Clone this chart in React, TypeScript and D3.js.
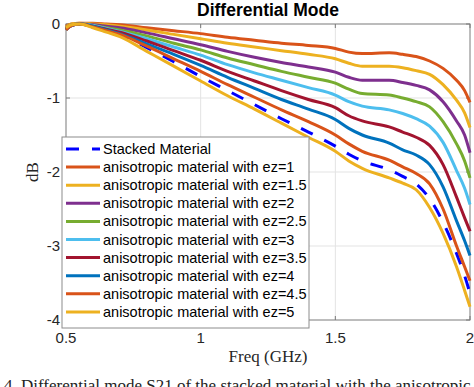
import React, { useEffect, useRef } from 'react';
import * as d3 from 'd3';

// frequency grid (GHz)
const freqs = [0.5, 0.52, 0.55, 0.6, 0.65, 0.7, 0.8, 0.9, 1.0, 1.1, 1.2, 1.3, 1.4, 1.5, 1.55, 1.6, 1.7, 1.75, 1.8, 1.85, 1.9, 1.95, 1.98, 2.0];

// dB values
const stacked = [-0.05, -0.02, 0.0, -0.04, -0.09, -0.14, -0.32, -0.51, -0.71, -0.9, -1.09, -1.28, -1.46, -1.65, -1.76, -1.85, -1.97, -2.06, -2.16, -2.36, -2.68, -3.1, -3.4, -3.64];
const ez1 = [-0.03, 0.0, 0.01, 0.01, 0.0, -0.01, -0.05, -0.09, -0.13, -0.18, -0.22, -0.26, -0.29, -0.33, -0.38, -0.4, -0.39, -0.41, -0.44, -0.5, -0.6, -0.76, -0.9, -1.06];
const ez1_5 = [-0.04, 0.0, 0.01, 0.0, -0.01, -0.03, -0.08, -0.14, -0.2, -0.26, -0.31, -0.36, -0.41, -0.47, -0.53, -0.57, -0.57, -0.59, -0.63, -0.68, -0.82, -1.03, -1.2, -1.4];
const ez2 = [-0.05, -0.01, 0.0, -0.01, -0.03, -0.05, -0.12, -0.2, -0.28, -0.37, -0.45, -0.52, -0.58, -0.65, -0.72, -0.76, -0.76, -0.79, -0.83, -0.89, -1.05, -1.31, -1.5, -1.74];
const ez2_5 = [-0.06, -0.01, 0.0, -0.02, -0.05, -0.08, -0.16, -0.26, -0.35, -0.46, -0.55, -0.64, -0.72, -0.8, -0.88, -0.94, -0.96, -1.0, -1.05, -1.12, -1.32, -1.62, -1.85, -2.08];
const ez3 = [-0.07, -0.02, 0.0, -0.02, -0.06, -0.1, -0.2, -0.31, -0.42, -0.55, -0.66, -0.76, -0.86, -0.96, -1.05, -1.11, -1.16, -1.21, -1.28, -1.38, -1.6, -1.98, -2.22, -2.44];
const ez3_5 = [-0.07, -0.02, 0.0, -0.03, -0.07, -0.11, -0.23, -0.36, -0.49, -0.64, -0.77, -0.9, -1.02, -1.13, -1.24, -1.31, -1.39, -1.46, -1.53, -1.64, -1.9, -2.34, -2.62, -2.8];
const ez4 = [-0.08, -0.02, 0.0, -0.03, -0.08, -0.13, -0.27, -0.41, -0.56, -0.72, -0.87, -1.02, -1.15, -1.29, -1.41, -1.5, -1.61, -1.7, -1.77, -1.9, -2.2, -2.66, -2.93, -3.13];
const ez4_5 = [-0.08, -0.02, 0.0, -0.04, -0.09, -0.14, -0.3, -0.47, -0.64, -0.82, -0.99, -1.16, -1.32, -1.5, -1.62, -1.72, -1.84, -1.93, -2.02, -2.16, -2.5, -3.0, -3.28, -3.47];
const ez5 = [-0.05, -0.01, 0.0, -0.05, -0.11, -0.17, -0.37, -0.57, -0.77, -0.97, -1.15, -1.34, -1.53, -1.72, -1.85, -1.95, -2.08, -2.15, -2.24, -2.48, -2.83, -3.28, -3.6, -3.82];

const seriesLabels = [
  'Stacked Material',
  'anisotropic material with ez=1',
  'anisotropic material with ez=1.5',
  'anisotropic material with ez=2',
  'anisotropic material with ez=2.5',
  'anisotropic material with ez=3',
  'anisotropic material with ez=3.5',
  'anisotropic material with ez=4',
  'anisotropic material with ez=4.5',
  'anisotropic material with ez=5',
];
const seriesValues = [stacked, ez1, ez1_5, ez2, ez2_5, ez3, ez3_5, ez4, ez4_5, ez5];
const seriesColors = ['#0000ff', '#D95319', '#EDB120', '#7E2F8E', '#77AC30', '#4DBEEE', '#A2142F', '#0072BD', '#D95319', '#EDB120'];

const xTicks = [0.5, 1, 1.5, 2];
const xTickLabels = ['0.5', '1', '1.5', '2'];
const yTicks = [0, -1, -2, -3, -4];
const yTickLabels = ['0', '-1', '-2', '-3', '-4'];

const SANS = '"Liberation Sans", Arial, Helvetica, sans-serif';
const SERIF = '"Liberation Serif", "Times New Roman", serif';

const Chart: React.FC = () => {
  const svgRef = useRef<SVGSVGElement>(null);

  useEffect(() => {
    if (!svgRef.current) return;
    const width = 474;
    const height = 387;
    const plot = { left: 66, right: 470, top: 24, bottom: 320 };

    const svg = d3.select(svgRef.current).attr('width', width).attr('height', height);
    svg.selectAll('*').remove();
    svg.append('rect').attr('width', width).attr('height', height).attr('fill', '#fff');

    const x = d3.scaleLinear().domain([0.5, 2]).range([plot.left, plot.right]);
    const y = d3.scaleLinear().domain([-4, 0]).range([plot.bottom, plot.top]);

    // grid
    const grid = svg.append('g').attr('stroke', '#e3e3e3').attr('stroke-width', 1);
    xTicks.slice(1, -1).forEach((t) => {
      grid.append('line').attr('x1', x(t)).attr('x2', x(t)).attr('y1', plot.top).attr('y2', plot.bottom);
    });
    yTicks.slice(1, -1).forEach((t) => {
      grid.append('line').attr('x1', plot.left).attr('x2', plot.right).attr('y1', y(t)).attr('y2', y(t));
    });

    // frame + inward ticks
    const axisColor = '#7a7a7a';
    svg
      .append('rect')
      .attr('x', plot.left)
      .attr('y', plot.top)
      .attr('width', plot.right - plot.left)
      .attr('height', plot.bottom - plot.top)
      .attr('fill', 'none')
      .attr('stroke', axisColor)
      .attr('stroke-width', 1);
    xTicks.forEach((t) => {
      svg.append('line').attr('x1', x(t)).attr('x2', x(t)).attr('y1', plot.bottom).attr('y2', plot.bottom - 4).attr('stroke', axisColor);
      svg.append('line').attr('x1', x(t)).attr('x2', x(t)).attr('y1', plot.top).attr('y2', plot.top + 4).attr('stroke', axisColor);
    });
    yTicks.forEach((t) => {
      svg.append('line').attr('x1', plot.left).attr('x2', plot.left + 4).attr('y1', y(t)).attr('y2', y(t)).attr('stroke', axisColor);
      svg.append('line').attr('x1', plot.right).attr('x2', plot.right - 4).attr('y1', y(t)).attr('y2', y(t)).attr('stroke', axisColor);
    });

    // lines
    const line = d3
      .line<number>()
      .x((_, i) => x(freqs[i]))
      .y((d) => y(d))
      .curve(d3.curveMonotoneX);

    seriesValues.forEach((vals, i) => {
      svg
        .append('path')
        .attr('d', line(vals) ?? '')
        .attr('fill', 'none')
        .attr('stroke', seriesColors[i])
        .attr('stroke-width', 3)
        .attr('stroke-linejoin', 'round')
        .attr('stroke-dasharray', i === 0 ? '13,13' : null);
    });

    // tick labels
    svg
      .selectAll('.xtick')
      .data(xTicks)
      .enter()
      .append('text')
      .attr('x', (d) => x(d))
      .attr('y', 343)
      .attr('text-anchor', 'middle')
      .attr('font-family', SANS)
      .attr('font-size', 15)
      .attr('fill', '#262626')
      .text((_, i) => xTickLabels[i]);

    svg
      .selectAll('.ytick')
      .data(yTicks)
      .enter()
      .append('text')
      .attr('x', 60)
      .attr('y', (d) => y(d) + 5)
      .attr('text-anchor', 'end')
      .attr('font-family', SANS)
      .attr('font-size', 15)
      .attr('fill', '#262626')
      .text((_, i) => yTickLabels[i]);

    // title and axis labels
    svg
      .append('text')
      .attr('x', 268)
      .attr('y', 16)
      .attr('text-anchor', 'middle')
      .attr('font-family', SANS)
      .attr('font-weight', 'bold')
      .attr('font-size', 17.5)
      .attr('fill', '#000')
      .text('Differential Mode');

    svg
      .append('text')
      .attr('x', 268)
      .attr('y', 362)
      .attr('text-anchor', 'middle')
      .attr('font-family', SERIF)
      .attr('font-size', 17)
      .attr('fill', '#262626')
      .text('Freq (GHz)');

    svg
      .append('text')
      .attr('transform', 'translate(38,172) rotate(-90)')
      .attr('text-anchor', 'middle')
      .attr('font-family', SERIF)
      .attr('font-size', 17)
      .attr('fill', '#262626')
      .text('dB');

    // caption cut off at the bottom of the picture
    svg
      .append('text')
      .attr('x', 4)
      .attr('y', 391)
      .attr('font-family', SERIF)
      .attr('font-size', 17)
      .attr('fill', '#222')
      .text('4. Differential mode S21 of the stacked material with the anisotropic');

    // legend
    const legend = svg.append('g');
    legend
      .append('rect')
      .attr('x', 62)
      .attr('y', 137)
      .attr('width', 247)
      .attr('height', 191)
      .attr('fill', '#fff')
      .attr('stroke', '#8c8c8c')
      .attr('stroke-width', 1);

    seriesLabels.forEach((label, i) => {
      const cy = 149 + i * 18.1;
      legend
        .append('line')
        .attr('x1', 66)
        .attr('x2', 100)
        .attr('y1', cy)
        .attr('y2', cy)
        .attr('stroke', seriesColors[i])
        .attr('stroke-width', 3)
        .attr('stroke-dasharray', i === 0 ? '13,13' : null);
      legend
        .append('text')
        .attr('x', 103)
        .attr('y', cy + 5)
        .attr('font-family', SANS)
        .attr('font-size', 14.5)
        .attr('fill', '#000')
        .text(label);
    });
  }, []);

  return <svg ref={svgRef}></svg>;
};

export default function App() {
  return (
    <div style={{ position: 'absolute', left: 0, top: 0 }}>
      <Chart />
    </div>
  );
}
